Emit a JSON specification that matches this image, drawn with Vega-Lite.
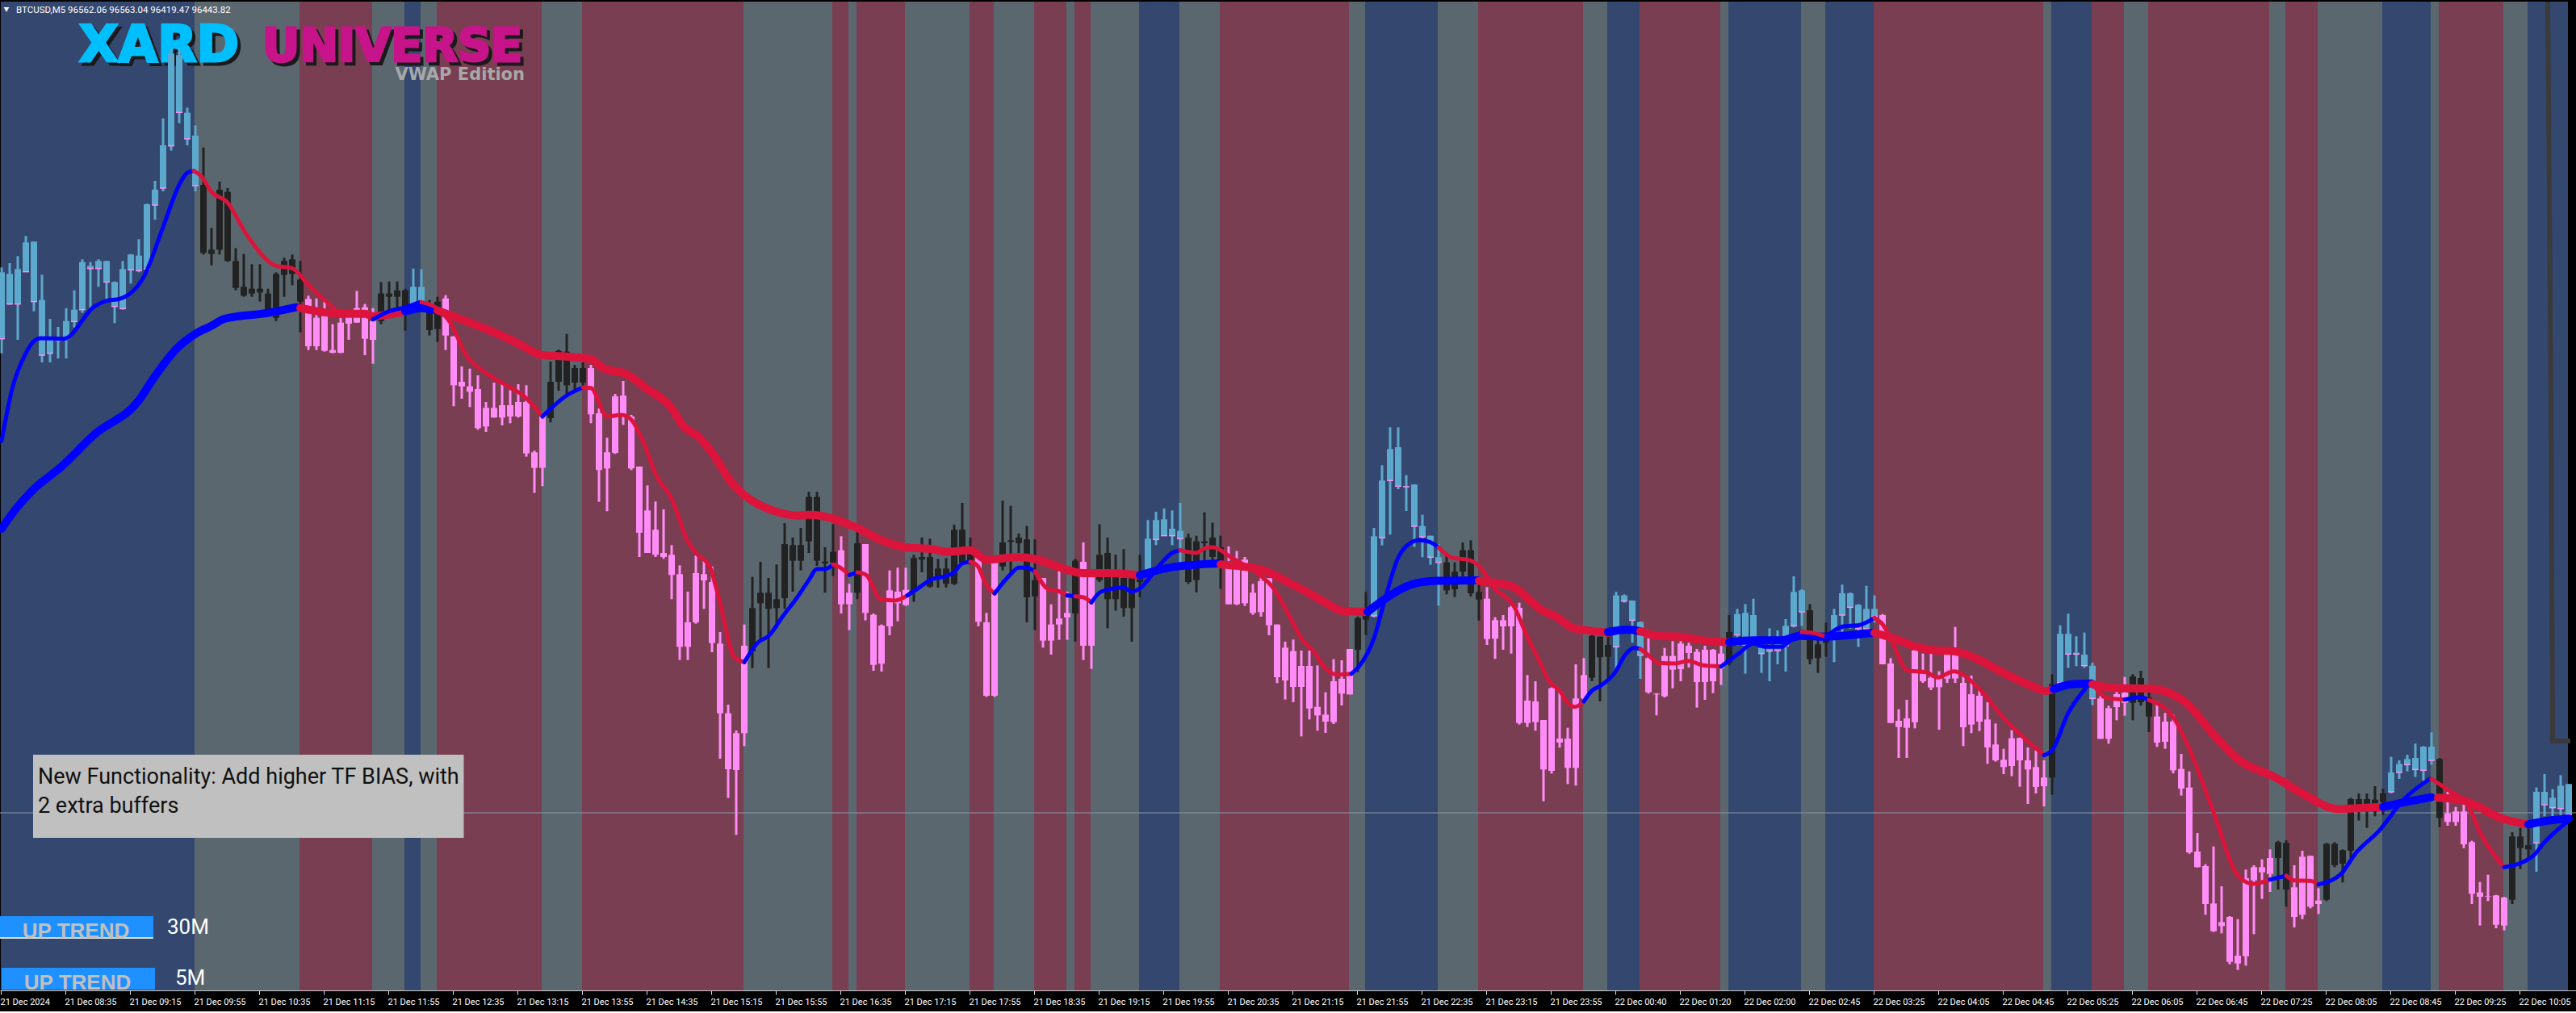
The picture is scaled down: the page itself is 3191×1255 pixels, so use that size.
{"$schema":"https://vega.github.io/schema/vega-lite/v6.json","width":3191,"height":1225,"autosize":{"type":"none"},"padding":{"left":0,"top":2,"right":0,"bottom":26},"background":"#000000","config":{"view":{"stroke":null}},
"datasets":{
"bands":[{"s":0,"e":24,"m":"up"},{"s":24,"e":37,"m":"flat"},{"s":37,"e":46,"m":"down"},{"s":46,"e":50,"m":"flat"},{"s":50,"e":52,"m":"up"},{"s":52,"e":54,"m":"flat"},{"s":54,"e":67,"m":"down"},{"s":67,"e":72,"m":"flat"},{"s":72,"e":92,"m":"down"},{"s":92,"e":103,"m":"flat"},{"s":103,"e":105,"m":"down"},{"s":105,"e":106,"m":"flat"},{"s":106,"e":112,"m":"down"},{"s":112,"e":120,"m":"flat"},{"s":120,"e":123,"m":"down"},{"s":123,"e":128,"m":"flat"},{"s":128,"e":132,"m":"down"},{"s":132,"e":133,"m":"flat"},{"s":133,"e":135,"m":"down"},{"s":135,"e":141,"m":"flat"},{"s":141,"e":146,"m":"up"},{"s":146,"e":151,"m":"flat"},{"s":151,"e":167,"m":"down"},{"s":167,"e":169,"m":"flat"},{"s":169,"e":178,"m":"up"},{"s":178,"e":183,"m":"flat"},{"s":183,"e":196,"m":"down"},{"s":196,"e":199,"m":"flat"},{"s":199,"e":203,"m":"up"},{"s":203,"e":213,"m":"down"},{"s":213,"e":214,"m":"flat"},{"s":214,"e":223,"m":"up"},{"s":223,"e":226,"m":"flat"},{"s":226,"e":232,"m":"up"},{"s":232,"e":253,"m":"down"},{"s":253,"e":254,"m":"flat"},{"s":254,"e":259,"m":"up"},{"s":259,"e":263,"m":"down"},{"s":263,"e":266,"m":"flat"},{"s":266,"e":281,"m":"down"},{"s":281,"e":283,"m":"flat"},{"s":283,"e":287,"m":"down"},{"s":287,"e":295,"m":"flat"},{"s":295,"e":301,"m":"up"},{"s":301,"e":302,"m":"flat"},{"s":302,"e":310,"m":"down"},{"s":310,"e":313,"m":"flat"},{"s":313,"e":318,"m":"up"}],
"candles":[
{"i":0,"h":98506,"l":98187,"t":98488,"b":98241,"k":"u"},{"i":1,"h":98522,"l":98367,"t":98482,"b":98370,"k":"u"},{"i":2,"h":98548,"l":98237,"t":98500,"b":98370,"k":"u"},{"i":3,"h":98623,"l":98490,"t":98599,"b":98490,"k":"u"},{"i":4,"h":98602,"l":98343,"t":98602,"b":98379,"k":"u"},{"i":5,"h":98479,"l":98153,"t":98385,"b":98180,"k":"u"},{"i":6,"h":98315,"l":98153,"t":98241,"b":98187,"k":"u"},{"i":7,"h":98285,"l":98168,"t":98247,"b":98235,"k":"u"},{"i":8,"h":98355,"l":98168,"t":98307,"b":98241,"k":"u"},{"i":9,"h":98421,"l":98283,"t":98349,"b":98305,"k":"u"},
{"i":10,"h":98536,"l":98337,"t":98526,"b":98349,"k":"u"},{"i":11,"h":98526,"l":98355,"t":98512,"b":98502,"k":"u"},{"i":12,"h":98536,"l":98434,"t":98530,"b":98502,"k":"u"},{"i":13,"h":98530,"l":98385,"t":98530,"b":98452,"k":"u"},{"i":14,"h":98454,"l":98299,"t":98452,"b":98361,"k":"u"},{"i":15,"h":98530,"l":98349,"t":98500,"b":98353,"k":"u"},{"i":16,"h":98556,"l":98446,"t":98554,"b":98497,"k":"u"},{"i":17,"h":98611,"l":98488,"t":98550,"b":98494,"k":"u"},{"i":18,"h":98743,"l":98488,"t":98741,"b":98500,"k":"u"},{"i":19,"h":98828,"l":98683,"t":98795,"b":98738,"k":"u"},
{"i":20,"h":99060,"l":98789,"t":98960,"b":98801,"k":"u"},{"i":21,"h":99319,"l":98940,"t":99301,"b":98958,"k":"u"},{"i":22,"h":99319,"l":99042,"t":99295,"b":99082,"k":"u"},{"i":23,"h":99100,"l":98960,"t":99081,"b":98984,"k":"u"},{"i":24,"h":99034,"l":98789,"t":98996,"b":98810,"k":"u"},{"i":25,"h":98952,"l":98554,"t":98813,"b":98560,"k":"n"},{"i":26,"h":98653,"l":98514,"t":98572,"b":98556,"k":"n"},{"i":27,"h":98825,"l":98554,"t":98795,"b":98572,"k":"n"},{"i":28,"h":98801,"l":98526,"t":98787,"b":98530,"k":"n"},{"i":29,"h":98578,"l":98421,"t":98530,"b":98430,"k":"n"},
{"i":30,"h":98556,"l":98397,"t":98434,"b":98401,"k":"n"},{"i":31,"h":98518,"l":98397,"t":98427,"b":98409,"k":"n"},{"i":32,"h":98518,"l":98379,"t":98427,"b":98413,"k":"n"},{"i":33,"h":98427,"l":98343,"t":98409,"b":98343,"k":"n"},{"i":34,"h":98488,"l":98307,"t":98482,"b":98319,"k":"n"},{"i":35,"h":98542,"l":98397,"t":98530,"b":98478,"k":"n"},{"i":36,"h":98554,"l":98440,"t":98536,"b":98482,"k":"n"},{"i":37,"h":98530,"l":98265,"t":98461,"b":98379,"k":"n"},{"i":38,"h":98401,"l":98199,"t":98389,"b":98213,"k":"d"},{"i":39,"h":98391,"l":98199,"t":98319,"b":98213,"k":"d"},
{"i":40,"h":98379,"l":98193,"t":98325,"b":98196,"k":"d"},{"i":41,"h":98295,"l":98187,"t":98199,"b":98189,"k":"d"},{"i":42,"h":98319,"l":98187,"t":98301,"b":98189,"k":"d"},{"i":43,"h":98325,"l":98237,"t":98321,"b":98297,"k":"d"},{"i":44,"h":98419,"l":98301,"t":98355,"b":98301,"k":"d"},{"i":45,"h":98370,"l":98180,"t":98358,"b":98241,"k":"d"},{"i":46,"h":98355,"l":98148,"t":98307,"b":98237,"k":"d"},{"i":47,"h":98452,"l":98295,"t":98409,"b":98307,"k":"n"},{"i":48,"h":98454,"l":98343,"t":98409,"b":98397,"k":"n"},{"i":49,"h":98454,"l":98349,"t":98421,"b":98397,"k":"n"},
{"i":50,"h":98427,"l":98271,"t":98421,"b":98349,"k":"n"},{"i":51,"h":98502,"l":98349,"t":98434,"b":98373,"k":"u"},{"i":52,"h":98500,"l":98367,"t":98434,"b":98373,"k":"u"},{"i":53,"h":98385,"l":98253,"t":98349,"b":98273,"k":"n"},{"i":54,"h":98397,"l":98229,"t":98379,"b":98277,"k":"n"},{"i":55,"h":98403,"l":98199,"t":98391,"b":98253,"k":"d"},{"i":56,"h":98250,"l":97990,"t":98250,"b":98068,"k":"d"},{"i":57,"h":98138,"l":98018,"t":98081,"b":98064,"k":"d"},{"i":58,"h":98130,"l":97987,"t":98064,"b":98044,"k":"d"},{"i":59,"h":98105,"l":97903,"t":98054,"b":97909,"k":"d"},
{"i":60,"h":98006,"l":97895,"t":97984,"b":97915,"k":"d"},{"i":61,"h":98078,"l":97948,"t":97984,"b":97948,"k":"d"},{"i":62,"h":98074,"l":97919,"t":97994,"b":97948,"k":"d"},{"i":63,"h":98050,"l":97927,"t":97994,"b":97952,"k":"d"},{"i":64,"h":98072,"l":97948,"t":98006,"b":97952,"k":"d"},{"i":65,"h":98068,"l":97803,"t":98006,"b":97815,"k":"d"},{"i":66,"h":97825,"l":97668,"t":97819,"b":97761,"k":"d"},{"i":67,"h":97952,"l":97693,"t":97952,"b":97761,"k":"d"},{"i":68,"h":98156,"l":97930,"t":98081,"b":97946,"k":"n"},{"i":69,"h":98201,"l":98048,"t":98196,"b":98081,"k":"n"},
{"i":70,"h":98259,"l":98036,"t":98193,"b":98068,"k":"n"},{"i":71,"h":98144,"l":98048,"t":98132,"b":98078,"k":"n"},{"i":72,"h":98153,"l":98060,"t":98132,"b":98078,"k":"n"},{"i":73,"h":98144,"l":97927,"t":98132,"b":97960,"k":"d"},{"i":74,"h":97982,"l":97635,"t":97964,"b":97753,"k":"d"},{"i":75,"h":97873,"l":97600,"t":97819,"b":97759,"k":"d"},{"i":76,"h":98036,"l":97813,"t":98027,"b":97817,"k":"d"},{"i":77,"h":98084,"l":97921,"t":98030,"b":97960,"k":"d"},{"i":78,"h":97958,"l":97753,"t":97952,"b":97759,"k":"d"},{"i":79,"h":97766,"l":97430,"t":97766,"b":97520,"k":"d"},
{"i":80,"h":97696,"l":97445,"t":97603,"b":97445,"k":"d"},{"i":81,"h":97636,"l":97430,"t":97531,"b":97438,"k":"d"},{"i":82,"h":97607,"l":97423,"t":97445,"b":97430,"k":"d"},{"i":83,"h":97474,"l":97273,"t":97438,"b":97363,"k":"d"},{"i":84,"h":97399,"l":97047,"t":97366,"b":97096,"k":"d"},{"i":85,"h":97301,"l":97047,"t":97187,"b":97096,"k":"d"},{"i":86,"h":97435,"l":97182,"t":97370,"b":97187,"k":"d"},{"i":87,"h":97416,"l":97237,"t":97366,"b":97343,"k":"d"},{"i":88,"h":97395,"l":97076,"t":97337,"b":97110,"k":"d"},{"i":89,"h":97151,"l":96680,"t":97108,"b":96849,"k":"d"},
{"i":90,"h":96881,"l":96534,"t":96849,"b":96641,"k":"d"},{"i":91,"h":96785,"l":96397,"t":96775,"b":96638,"k":"d"},{"i":92,"h":97179,"l":96727,"t":97100,"b":96775,"k":"d"},{"i":93,"h":97356,"l":97017,"t":97240,"b":97079,"k":"n"},{"i":94,"h":97412,"l":97122,"t":97297,"b":97258,"k":"n"},{"i":95,"h":97352,"l":97017,"t":97297,"b":97237,"k":"n"},{"i":96,"h":97402,"l":97165,"t":97273,"b":97240,"k":"n"},{"i":97,"h":97555,"l":97237,"t":97478,"b":97277,"k":"n"},{"i":98,"h":97502,"l":97301,"t":97474,"b":97416,"k":"n"},{"i":99,"h":97538,"l":97380,"t":97474,"b":97416,"k":"n"},
{"i":100,"h":97672,"l":97445,"t":97653,"b":97488,"k":"n"},{"i":101,"h":97672,"l":97397,"t":97653,"b":97416,"k":"n"},{"i":102,"h":97466,"l":97297,"t":97413,"b":97406,"k":"n"},{"i":103,"h":97552,"l":97359,"t":97449,"b":97409,"k":"n"},{"i":104,"h":97507,"l":97220,"t":97455,"b":97254,"k":"d"},{"i":105,"h":97330,"l":97158,"t":97297,"b":97254,"k":"d"},{"i":106,"h":97524,"l":97273,"t":97481,"b":97297,"k":"n"},{"i":107,"h":97478,"l":97194,"t":97478,"b":97222,"k":"d"},{"i":108,"h":97220,"l":97007,"t":97215,"b":97029,"k":"d"},{"i":109,"h":97179,"l":97004,"t":97175,"b":97033,"k":"d"},
{"i":110,"h":97380,"l":97139,"t":97306,"b":97172,"k":"d"},{"i":111,"h":97390,"l":97191,"t":97301,"b":97258,"k":"d"},{"i":112,"h":97390,"l":97248,"t":97308,"b":97251,"k":"d"},{"i":113,"h":97438,"l":97263,"t":97426,"b":97301,"k":"n"},{"i":114,"h":97502,"l":97373,"t":97430,"b":97420,"k":"n"},{"i":115,"h":97498,"l":97316,"t":97430,"b":97320,"k":"n"},{"i":116,"h":97423,"l":97316,"t":97387,"b":97352,"k":"n"},{"i":117,"h":97426,"l":97316,"t":97387,"b":97330,"k":"n"},{"i":118,"h":97550,"l":97326,"t":97531,"b":97330,"k":"n"},{"i":119,"h":97631,"l":97402,"t":97531,"b":97409,"k":"n"},
{"i":120,"h":97502,"l":97402,"t":97452,"b":97409,"k":"n"},{"i":121,"h":97452,"l":97172,"t":97435,"b":97189,"k":"d"},{"i":122,"h":97222,"l":96910,"t":97187,"b":96914,"k":"d"},{"i":123,"h":97409,"l":96910,"t":97409,"b":96914,"k":"d"},{"i":124,"h":97639,"l":97380,"t":97484,"b":97395,"k":"n"},{"i":125,"h":97620,"l":97366,"t":97492,"b":97486,"k":"n"},{"i":126,"h":97517,"l":97423,"t":97502,"b":97481,"k":"n"},{"i":127,"h":97545,"l":97187,"t":97495,"b":97280,"k":"n"},{"i":128,"h":97495,"l":97158,"t":97344,"b":97283,"k":"n"},{"i":129,"h":97352,"l":97093,"t":97352,"b":97119,"k":"d"},
{"i":130,"h":97254,"l":97067,"t":97179,"b":97119,"k":"d"},{"i":131,"h":97406,"l":97122,"t":97201,"b":97179,"k":"d"},{"i":132,"h":97301,"l":97122,"t":97222,"b":97205,"k":"d"},{"i":133,"h":97423,"l":97115,"t":97416,"b":97220,"k":"n"},{"i":134,"h":97484,"l":97047,"t":97412,"b":97100,"k":"d"},{"i":135,"h":97380,"l":97014,"t":97354,"b":97100,"k":"d"},{"i":136,"h":97552,"l":97337,"t":97438,"b":97344,"k":"n"},{"i":137,"h":97502,"l":97165,"t":97445,"b":97273,"k":"n"},{"i":138,"h":97438,"l":97230,"t":97366,"b":97273,"k":"n"},{"i":139,"h":97459,"l":97208,"t":97352,"b":97240,"k":"n"},
{"i":140,"h":97366,"l":97115,"t":97354,"b":97240,"k":"n"},{"i":141,"h":97438,"l":97280,"t":97366,"b":97337,"k":"n"},{"i":142,"h":97567,"l":97366,"t":97498,"b":97373,"k":"u"},{"i":143,"h":97598,"l":97474,"t":97567,"b":97495,"k":"u"},{"i":144,"h":97610,"l":97509,"t":97570,"b":97509,"k":"u"},{"i":145,"h":97603,"l":97474,"t":97535,"b":97509,"k":"u"},{"i":146,"h":97631,"l":97402,"t":97527,"b":97498,"k":"u"},{"i":147,"h":97517,"l":97330,"t":97502,"b":97337,"k":"n"},{"i":148,"h":97509,"l":97298,"t":97488,"b":97344,"k":"n"},{"i":149,"h":97596,"l":97409,"t":97488,"b":97481,"k":"n"},
{"i":150,"h":97557,"l":97409,"t":97502,"b":97430,"k":"n"},{"i":151,"h":97509,"l":97311,"t":97466,"b":97402,"k":"n"},{"i":152,"h":97469,"l":97254,"t":97409,"b":97254,"k":"d"},{"i":153,"h":97452,"l":97251,"t":97395,"b":97254,"k":"d"},{"i":154,"h":97430,"l":97248,"t":97420,"b":97258,"k":"d"},{"i":155,"h":97330,"l":97215,"t":97297,"b":97222,"k":"d"},{"i":156,"h":97352,"l":97208,"t":97340,"b":97225,"k":"d"},{"i":157,"h":97352,"l":97139,"t":97352,"b":97176,"k":"d"},{"i":158,"h":97179,"l":96961,"t":97179,"b":96983,"k":"d"},{"i":159,"h":97115,"l":96900,"t":97093,"b":96971,"k":"d"},
{"i":160,"h":97123,"l":96890,"t":97080,"b":96947,"k":"d"},{"i":161,"h":97082,"l":96763,"t":97025,"b":96947,"k":"d"},{"i":162,"h":97082,"l":96826,"t":97025,"b":96867,"k":"d"},{"i":163,"h":97027,"l":96784,"t":96873,"b":96841,"k":"d"},{"i":164,"h":96927,"l":96776,"t":96844,"b":96818,"k":"d"},{"i":165,"h":97050,"l":96809,"t":96968,"b":96816,"k":"d"},{"i":166,"h":97046,"l":96878,"t":96977,"b":96922,"k":"d"},{"i":167,"h":97088,"l":96919,"t":97088,"b":96919,"k":"d"},{"i":168,"h":97209,"l":97002,"t":97203,"b":97085,"k":"n"},{"i":169,"h":97300,"l":97140,"t":97232,"b":97197,"k":"n"},
{"i":170,"h":97538,"l":97205,"t":97507,"b":97211,"k":"u"},{"i":171,"h":97771,"l":97473,"t":97714,"b":97501,"k":"u"},{"i":172,"h":97912,"l":97513,"t":97831,"b":97714,"k":"u"},{"i":173,"h":97912,"l":97682,"t":97838,"b":97693,"k":"u"},{"i":174,"h":97734,"l":97601,"t":97693,"b":97691,"k":"u"},{"i":175,"h":97700,"l":97467,"t":97699,"b":97544,"k":"u"},{"i":176,"h":97587,"l":97429,"t":97545,"b":97505,"k":"u"},{"i":177,"h":97509,"l":97401,"t":97509,"b":97429,"k":"u"},{"i":178,"h":97478,"l":97249,"t":97429,"b":97410,"k":"u"},{"i":179,"h":97438,"l":97291,"t":97410,"b":97306,"k":"n"},
{"i":180,"h":97410,"l":97281,"t":97375,"b":97310,"k":"n"},{"i":181,"h":97484,"l":97358,"t":97455,"b":97375,"k":"n"},{"i":182,"h":97492,"l":97283,"t":97455,"b":97295,"k":"n"},{"i":183,"h":97346,"l":97194,"t":97300,"b":97272,"k":"n"},{"i":184,"h":97318,"l":97103,"t":97275,"b":97125,"k":"d"},{"i":185,"h":97206,"l":97051,"t":97195,"b":97126,"k":"d"},{"i":186,"h":97214,"l":97085,"t":97195,"b":97172,"k":"d"},{"i":187,"h":97249,"l":97071,"t":97243,"b":97172,"k":"d"},{"i":188,"h":97260,"l":96807,"t":97241,"b":96813,"k":"d"},{"i":189,"h":96991,"l":96798,"t":96896,"b":96813,"k":"d"},
{"i":190,"h":96968,"l":96784,"t":96893,"b":96816,"k":"d"},{"i":191,"h":96824,"l":96522,"t":96824,"b":96640,"k":"d"},{"i":192,"h":96945,"l":96625,"t":96942,"b":96635,"k":"d"},{"i":193,"h":96939,"l":96721,"t":96755,"b":96740,"k":"d"},{"i":194,"h":96795,"l":96586,"t":96755,"b":96646,"k":"d"},{"i":195,"h":97031,"l":96580,"t":96904,"b":96646,"k":"d"},{"i":196,"h":97054,"l":96887,"t":96991,"b":96904,"k":"d"},{"i":197,"h":97140,"l":96968,"t":97137,"b":96981,"k":"n"},{"i":198,"h":97134,"l":96893,"t":97134,"b":97057,"k":"n"},{"i":199,"h":97134,"l":96968,"t":97103,"b":97059,"k":"n"},
{"i":200,"h":97300,"l":97002,"t":97287,"b":97096,"k":"u"},{"i":201,"h":97291,"l":97260,"t":97287,"b":97266,"k":"u"},{"i":202,"h":97268,"l":97111,"t":97268,"b":97195,"k":"u"},{"i":203,"h":97190,"l":96977,"t":97188,"b":97065,"k":"u"},{"i":204,"h":97128,"l":96922,"t":97054,"b":96927,"k":"d"},{"i":205,"h":96924,"l":96841,"t":96922,"b":96919,"k":"d"},{"i":206,"h":97092,"l":96908,"t":97062,"b":96912,"k":"d"},{"i":207,"h":97117,"l":96942,"t":97062,"b":97011,"k":"d"},{"i":208,"h":97117,"l":96968,"t":97108,"b":97013,"k":"d"},{"i":209,"h":97111,"l":97019,"t":97100,"b":97073,"k":"d"},
{"i":210,"h":97088,"l":96870,"t":97077,"b":96965,"k":"d"},{"i":211,"h":97100,"l":96899,"t":97085,"b":96965,"k":"d"},{"i":212,"h":97088,"l":96924,"t":97085,"b":96968,"k":"d"},{"i":213,"h":97100,"l":96954,"t":97071,"b":97016,"k":"d"},{"i":214,"h":97214,"l":97027,"t":97151,"b":97036,"k":"n"},{"i":215,"h":97237,"l":97100,"t":97218,"b":97140,"k":"u"},{"i":216,"h":97255,"l":96996,"t":97222,"b":97103,"k":"u"},{"i":217,"h":97275,"l":97105,"t":97214,"b":97111,"k":"u"},{"i":218,"h":97111,"l":96999,"t":97092,"b":97071,"k":"u"},{"i":219,"h":97165,"l":96968,"t":97094,"b":97080,"k":"u"},
{"i":220,"h":97157,"l":97031,"t":97111,"b":97082,"k":"u"},{"i":221,"h":97199,"l":97004,"t":97174,"b":97100,"k":"u"},{"i":222,"h":97358,"l":97168,"t":97300,"b":97174,"k":"u"},{"i":223,"h":97310,"l":97174,"t":97306,"b":97226,"k":"u"},{"i":224,"h":97255,"l":97031,"t":97232,"b":97050,"k":"n"},{"i":225,"h":97140,"l":96999,"t":97105,"b":97054,"k":"n"},{"i":226,"h":97186,"l":97059,"t":97146,"b":97111,"k":"n"},{"i":227,"h":97237,"l":97039,"t":97214,"b":97151,"k":"u"},{"i":228,"h":97327,"l":97151,"t":97295,"b":97214,"k":"u"},{"i":229,"h":97298,"l":97163,"t":97295,"b":97243,"k":"u"},
{"i":230,"h":97255,"l":97096,"t":97252,"b":97163,"k":"u"},{"i":231,"h":97323,"l":97157,"t":97237,"b":97163,"k":"u"},{"i":232,"h":97287,"l":97186,"t":97237,"b":97209,"k":"u"},{"i":233,"h":97218,"l":97031,"t":97214,"b":97031,"k":"d"},{"i":234,"h":97054,"l":96813,"t":97034,"b":96813,"k":"d"},{"i":235,"h":96864,"l":96683,"t":96821,"b":96798,"k":"d"},{"i":236,"h":96899,"l":96683,"t":96830,"b":96795,"k":"d"},{"i":237,"h":97088,"l":96793,"t":97082,"b":96816,"k":"d"},{"i":238,"h":97071,"l":96962,"t":96996,"b":96968,"k":"d"},{"i":239,"h":97077,"l":96935,"t":96981,"b":96945,"k":"d"},
{"i":240,"h":97005,"l":96788,"t":96978,"b":96946,"k":"d"},{"i":241,"h":97069,"l":96962,"t":97069,"b":96978,"k":"d"},{"i":242,"h":97170,"l":96962,"t":97069,"b":96978,"k":"d"},{"i":243,"h":96994,"l":96727,"t":96962,"b":96797,"k":"d"},{"i":244,"h":96989,"l":96775,"t":96920,"b":96807,"k":"d"},{"i":245,"h":96946,"l":96783,"t":96914,"b":96818,"k":"d"},{"i":246,"h":96890,"l":96661,"t":96826,"b":96722,"k":"d"},{"i":247,"h":96811,"l":96669,"t":96733,"b":96674,"k":"d"},{"i":248,"h":96717,"l":96623,"t":96676,"b":96649,"k":"d"},{"i":249,"h":96786,"l":96615,"t":96756,"b":96653,"k":"d"},
{"i":250,"h":96759,"l":96576,"t":96757,"b":96674,"k":"d"},{"i":251,"h":96722,"l":96512,"t":96674,"b":96640,"k":"d"},{"i":252,"h":96717,"l":96551,"t":96649,"b":96575,"k":"d"},{"i":253,"h":96674,"l":96503,"t":96610,"b":96578,"k":"d"},{"i":254,"h":96994,"l":96546,"t":96957,"b":96610,"k":"n"},{"i":255,"h":97176,"l":96957,"t":97144,"b":96962,"k":"u"},{"i":256,"h":97219,"l":97018,"t":97144,"b":97069,"k":"u"},{"i":257,"h":97135,"l":97024,"t":97074,"b":97069,"k":"u"},{"i":258,"h":97149,"l":97018,"t":97067,"b":97026,"k":"u"},{"i":259,"h":97037,"l":96879,"t":97026,"b":96904,"k":"u"},
{"i":260,"h":96914,"l":96754,"t":96904,"b":96754,"k":"d"},{"i":261,"h":96877,"l":96736,"t":96868,"b":96754,"k":"d"},{"i":262,"h":96930,"l":96823,"t":96920,"b":96872,"k":"d"},{"i":263,"h":96984,"l":96840,"t":96925,"b":96888,"k":"d"},{"i":264,"h":96994,"l":96823,"t":96986,"b":96888,"k":"n"},{"i":265,"h":97007,"l":96877,"t":96980,"b":96890,"k":"n"},{"i":266,"h":96930,"l":96779,"t":96907,"b":96837,"k":"n"},{"i":267,"h":96893,"l":96724,"t":96837,"b":96740,"k":"d"},{"i":268,"h":96850,"l":96717,"t":96818,"b":96743,"k":"d"},{"i":269,"h":96845,"l":96626,"t":96818,"b":96637,"k":"d"},
{"i":270,"h":96698,"l":96543,"t":96642,"b":96569,"k":"d"},{"i":271,"h":96633,"l":96327,"t":96573,"b":96332,"k":"d"},{"i":272,"h":96404,"l":96276,"t":96335,"b":96277,"k":"d"},{"i":273,"h":96288,"l":96100,"t":96281,"b":96140,"k":"d"},{"i":274,"h":96354,"l":96036,"t":96142,"b":96039,"k":"d"},{"i":275,"h":96206,"l":96031,"t":96073,"b":96058,"k":"d"},{"i":276,"h":96095,"l":95916,"t":96092,"b":95925,"k":"d"},{"i":277,"h":96084,"l":95895,"t":95948,"b":95919,"k":"d"},{"i":278,"h":96268,"l":95911,"t":96236,"b":95946,"k":"d"},{"i":279,"h":96284,"l":96028,"t":96277,"b":96228,"k":"d"},
{"i":280,"h":96306,"l":96159,"t":96277,"b":96258,"k":"d"},{"i":281,"h":96343,"l":96185,"t":96311,"b":96252,"k":"d"},{"i":282,"h":96375,"l":96194,"t":96370,"b":96311,"k":"n"},{"i":283,"h":96377,"l":96130,"t":96367,"b":96194,"k":"n"},{"i":284,"h":96284,"l":96053,"t":96202,"b":96092,"k":"d"},{"i":285,"h":96338,"l":96084,"t":96316,"b":96100,"k":"d"},{"i":286,"h":96320,"l":96124,"t":96319,"b":96130,"k":"d"},{"i":287,"h":96199,"l":96103,"t":96153,"b":96140,"k":"d"},{"i":288,"h":96367,"l":96151,"t":96364,"b":96156,"k":"n"},{"i":289,"h":96370,"l":96277,"t":96364,"b":96284,"k":"n"},
{"i":290,"h":96343,"l":96220,"t":96340,"b":96290,"k":"n"},{"i":291,"h":96535,"l":96311,"t":96530,"b":96338,"k":"n"},{"i":292,"h":96551,"l":96450,"t":96530,"b":96484,"k":"n"},{"i":293,"h":96551,"l":96423,"t":96530,"b":96484,"k":"n"},{"i":294,"h":96578,"l":96466,"t":96528,"b":96484,"k":"n"},{"i":295,"h":96569,"l":96471,"t":96551,"b":96519,"k":"n"},{"i":296,"h":96687,"l":96551,"t":96629,"b":96557,"k":"u"},{"i":297,"h":96674,"l":96605,"t":96661,"b":96629,"k":"u"},{"i":298,"h":96695,"l":96633,"t":96679,"b":96658,"k":"u"},{"i":299,"h":96736,"l":96612,"t":96683,"b":96640,"k":"u"},
{"i":300,"h":96727,"l":96599,"t":96725,"b":96637,"k":"u"},{"i":301,"h":96778,"l":96658,"t":96725,"b":96674,"k":"u"},{"i":302,"h":96683,"l":96426,"t":96679,"b":96460,"k":"n"},{"i":303,"h":96557,"l":96431,"t":96477,"b":96445,"k":"d"},{"i":304,"h":96501,"l":96431,"t":96484,"b":96445,"k":"d"},{"i":305,"h":96525,"l":96348,"t":96484,"b":96362,"k":"d"},{"i":306,"h":96375,"l":96140,"t":96370,"b":96178,"k":"d"},{"i":307,"h":96222,"l":96060,"t":96183,"b":96167,"k":"d"},{"i":308,"h":96249,"l":96151,"t":96169,"b":96167,"k":"d"},{"i":309,"h":96174,"l":96050,"t":96172,"b":96063,"k":"d"},
{"i":310,"h":96167,"l":96042,"t":96164,"b":96060,"k":"d"},{"i":311,"h":96407,"l":96140,"t":96391,"b":96156,"k":"n"},{"i":312,"h":96423,"l":96270,"t":96391,"b":96348,"k":"n"},{"i":313,"h":96423,"l":96311,"t":96359,"b":96343,"k":"n"},{"i":314,"h":96573,"l":96260,"t":96557,"b":96367,"k":"u"},{"i":315,"h":96623,"l":96466,"t":96557,"b":96509,"k":"u"},{"i":316,"h":96567,"l":96463,"t":96535,"b":96498,"k":"u"},{"i":317,"h":96619,"l":96460,"t":96580,"b":96495,"k":"u"},{"i":318,"h":96586,"l":96471,"t":96586,"b":96473,"k":"u"}],
"slow":[
{"i":0,"p":97535,"g":"s1","t":"u"},{"i":1.8,"p":97610,"g":"s1","t":"u"},{"i":3.9,"p":97680,"g":"s1","t":"u"},{"i":7.4,"p":97765,"g":"s1","t":"u"},{"i":11.5,"p":97885,"g":"s1","t":"u"},{"i":17,"p":98012,"g":"s1","t":"u"},{"i":19,"p":98102,"g":"s1","t":"u"},{"i":21.7,"p":98205,"g":"s1","t":"u"},{"i":24,"p":98259,"g":"s1","t":"u"},{"i":26,"p":98289,"g":"s1","t":"u"},{"i":27.6,"p":98315,"g":"s1","t":"u"},{"i":33,"p":98337,"g":"s1","t":"u"},{"i":36.5,"p":98358,"g":"s1","t":"u"},
{"i":37,"p":98355,"g":"s2","t":"d"},{"i":42,"p":98334,"g":"s2","t":"d"},{"i":45,"p":98334,"g":"s2","t":"d"},{"i":46,"p":98325,"g":"s2","t":"d"},{"i":50,"p":98343,"g":"s2","t":"d"},
{"i":50,"p":98343,"g":"s3","t":"u"},{"i":52,"p":98355,"g":"s3","t":"u"},{"i":54,"p":98346,"g":"s3","t":"u"},
{"i":54,"p":98346,"g":"s4","t":"d"},{"i":58,"p":98301,"g":"s4","t":"d"},{"i":61,"p":98265,"g":"s4","t":"d"},{"i":64,"p":98223,"g":"s4","t":"d"},{"i":67,"p":98180,"g":"s4","t":"d"},{"i":70,"p":98175,"g":"s4","t":"d"},{"i":73,"p":98165,"g":"s4","t":"d"},{"i":74.5,"p":98132,"g":"s4","t":"d"},{"i":77.5,"p":98108,"g":"s4","t":"d"},{"i":79.8,"p":98058,"g":"s4","t":"d"},{"i":83,"p":97983,"g":"s4","t":"d"},{"i":84.4,"p":97918,"g":"s4","t":"d"},{"i":86.4,"p":97875,"g":"s4","t":"d"},{"i":88,"p":97818,"g":"s4","t":"d"},{"i":90.5,"p":97703,"g":"s4","t":"d"},{"i":92,"p":97660,"g":"s4","t":"d"},{"i":96,"p":97598,"g":"s4","t":"d"},{"i":98.6,"p":97584,"g":"s4","t":"d"},{"i":100,"p":97587,"g":"s4","t":"d"},{"i":106,"p":97538,"g":"s4","t":"d"},{"i":109,"p":97492,"g":"s4","t":"d"},{"i":112,"p":97466,"g":"s4","t":"d"},{"i":115.5,"p":97459,"g":"s4","t":"d"},{"i":117,"p":97449,"g":"s4","t":"d"},{"i":120,"p":97455,"g":"s4","t":"d"},{"i":122,"p":97420,"g":"s4","t":"d"},{"i":126,"p":97430,"g":"s4","t":"d"},{"i":128.8,"p":97416,"g":"s4","t":"d"},{"i":131,"p":97392,"g":"s4","t":"d"},{"i":134,"p":97370,"g":"s4","t":"d"},{"i":137.5,"p":97370,"g":"s4","t":"d"},{"i":141,"p":97362,"g":"s4","t":"d"},
{"i":141,"p":97362,"g":"s5","t":"u"},{"i":145,"p":97392,"g":"s5","t":"u"},{"i":150.8,"p":97406,"g":"s5","t":"u"},
{"i":151,"p":97402,"g":"s6","t":"d"},{"i":156,"p":97383,"g":"s6","t":"d"},{"i":159.8,"p":97329,"g":"s6","t":"d"},{"i":162,"p":97295,"g":"s6","t":"d"},{"i":164,"p":97260,"g":"s6","t":"d"},{"i":166.2,"p":97229,"g":"s6","t":"d"},{"i":169,"p":97226,"g":"s6","t":"d"},
{"i":169.2,"p":97226,"g":"s7","t":"u"},{"i":172,"p":97287,"g":"s7","t":"u"},{"i":174.6,"p":97327,"g":"s7","t":"u"},{"i":177.4,"p":97341,"g":"s7","t":"u"},{"i":182.8,"p":97343,"g":"s7","t":"u"},
{"i":183,"p":97341,"g":"s8","t":"d"},{"i":187,"p":97321,"g":"s8","t":"d"},{"i":191,"p":97229,"g":"s8","t":"d"},{"i":192.5,"p":97209,"g":"s8","t":"d"},{"i":194.5,"p":97168,"g":"s8","t":"d"},{"i":196,"p":97159,"g":"s8","t":"d"},{"i":199,"p":97149,"g":"s8","t":"d"},
{"i":199,"p":97151,"g":"s9","t":"u"},{"i":201.4,"p":97160,"g":"s9","t":"u"},{"i":203,"p":97154,"g":"s9","t":"u"},
{"i":203,"p":97154,"g":"s10","t":"d"},{"i":205,"p":97137,"g":"s10","t":"d"},{"i":208,"p":97134,"g":"s10","t":"d"},{"i":210,"p":97123,"g":"s10","t":"d"},{"i":214,"p":97113,"g":"s10","t":"d"},
{"i":214,"p":97113,"g":"s11","t":"u"},{"i":217,"p":97120,"g":"s11","t":"u"},{"i":220.5,"p":97120,"g":"s11","t":"u"},{"i":222.8,"p":97137,"g":"s11","t":"u"},{"i":226,"p":97134,"g":"s11","t":"u"},{"i":231.7,"p":97148,"g":"s11","t":"u"},
{"i":232,"p":97148,"g":"s12","t":"d"},{"i":234.8,"p":97123,"g":"s12","t":"d"},{"i":236.8,"p":97100,"g":"s12","t":"d"},{"i":239.8,"p":97082,"g":"s12","t":"d"},{"i":241.8,"p":97080,"g":"s12","t":"d"},{"i":244.8,"p":97050,"g":"s12","t":"d"},{"i":247.9,"p":97000,"g":"s12","t":"d"},{"i":251.4,"p":96952,"g":"s12","t":"d"},{"i":253.2,"p":96932,"g":"s12","t":"d"},{"i":254.2,"p":96939,"g":"s12","t":"d"},
{"i":254.2,"p":96939,"g":"s13","t":"u"},{"i":256.4,"p":96957,"g":"s13","t":"u"},{"i":258.9,"p":96960,"g":"s13","t":"u"},
{"i":259,"p":96957,"g":"s14","t":"d"},{"i":261.5,"p":96943,"g":"s14","t":"d"},{"i":266,"p":96941,"g":"s14","t":"d"},{"i":268.5,"p":96925,"g":"s14","t":"d"},{"i":270.6,"p":96888,"g":"s14","t":"d"},{"i":274,"p":96770,"g":"s14","t":"d"},{"i":277,"p":96679,"g":"s14","t":"d"},{"i":281.7,"p":96610,"g":"s14","t":"d"},{"i":285,"p":96551,"g":"s14","t":"d"},{"i":289.5,"p":96493,"g":"s14","t":"d"},{"i":291,"p":96495,"g":"s14","t":"d"},{"i":295,"p":96501,"g":"s14","t":"d"},
{"i":295,"p":96501,"g":"s15","t":"u"},{"i":297.8,"p":96519,"g":"s15","t":"u"},{"i":301,"p":96537,"g":"s15","t":"u"},
{"i":301.8,"p":96535,"g":"s16","t":"d"},{"i":304.9,"p":96525,"g":"s16","t":"d"},{"i":310,"p":96455,"g":"s16","t":"d"},{"i":313,"p":96436,"g":"s16","t":"d"},
{"i":313,"p":96436,"g":"s17","t":"u"},{"i":315.5,"p":96450,"g":"s17","t":"u"},{"i":318,"p":96458,"g":"s17","t":"u"}],
"fast":[
{"i":0,"p":97861,"g":"f1","t":"u"},{"i":1.3,"p":98054,"g":"f1","t":"u"},{"i":3,"p":98187,"g":"f1","t":"u"},{"i":3.9,"p":98229,"g":"f1","t":"u"},{"i":4.9,"p":98243,"g":"f1","t":"u"},{"i":7.7,"p":98241,"g":"f1","t":"u"},{"i":11.5,"p":98361,"g":"f1","t":"u"},{"i":13,"p":98382,"g":"f1","t":"u"},{"i":14.6,"p":98389,"g":"f1","t":"u"},{"i":17.7,"p":98476,"g":"f1","t":"u"},{"i":20,"p":98656,"g":"f1","t":"u"},{"i":22,"p":98813,"g":"f1","t":"u"},{"i":23,"p":98858,"g":"f1","t":"u"},{"i":23.8,"p":98865,"g":"f1","t":"u"},
{"i":23.8,"p":98865,"g":"f2","t":"d"},{"i":24.8,"p":98843,"g":"f2","t":"d"},{"i":26,"p":98787,"g":"f2","t":"d"},{"i":27.9,"p":98750,"g":"f2","t":"d"},{"i":30.4,"p":98626,"g":"f2","t":"d"},{"i":34,"p":98512,"g":"f2","t":"d"},{"i":36,"p":98503,"g":"f2","t":"d"},{"i":38,"p":98440,"g":"f2","t":"d"},{"i":40,"p":98385,"g":"f2","t":"d"},{"i":42,"p":98340,"g":"f2","t":"d"},{"i":44.7,"p":98337,"g":"f2","t":"d"},{"i":46,"p":98313,"g":"f2","t":"d"},
{"i":46,"p":98313,"g":"f3","t":"u"},{"i":48,"p":98343,"g":"f3","t":"u"},{"i":50,"p":98358,"g":"f3","t":"u"},{"i":51.8,"p":98377,"g":"f3","t":"u"},
{"i":52,"p":98377,"g":"f4","t":"d"},{"i":53.9,"p":98355,"g":"f4","t":"d"},{"i":55.7,"p":98295,"g":"f4","t":"d"},{"i":57.4,"p":98187,"g":"f4","t":"d"},{"i":60,"p":98114,"g":"f4","t":"d"},{"i":63,"p":98060,"g":"f4","t":"d"},{"i":64.6,"p":98030,"g":"f4","t":"d"},{"i":67,"p":97952,"g":"f4","t":"d"},
{"i":67,"p":97952,"g":"f5","t":"u"},{"i":70,"p":98030,"g":"f5","t":"u"},{"i":72,"p":98060,"g":"f5","t":"u"},
{"i":72,"p":98060,"g":"f6","t":"d"},{"i":73,"p":98058,"g":"f6","t":"d"},{"i":75,"p":97952,"g":"f6","t":"d"},{"i":76.8,"p":97958,"g":"f6","t":"d"},{"i":78,"p":97940,"g":"f6","t":"d"},{"i":79.8,"p":97835,"g":"f6","t":"d"},{"i":81,"p":97739,"g":"f6","t":"d"},{"i":83,"p":97646,"g":"f6","t":"d"},{"i":85,"p":97488,"g":"f6","t":"d"},{"i":86,"p":97445,"g":"f6","t":"d"},{"i":87.7,"p":97395,"g":"f6","t":"d"},{"i":88.7,"p":97294,"g":"f6","t":"d"},{"i":90.8,"p":97057,"g":"f6","t":"d"},{"i":92,"p":97039,"g":"f6","t":"d"},
{"i":92,"p":97039,"g":"f7","t":"u"},{"i":93.8,"p":97115,"g":"f7","t":"u"},{"i":95,"p":97136,"g":"f7","t":"u"},{"i":96.9,"p":97215,"g":"f7","t":"u"},{"i":98.4,"p":97273,"g":"f7","t":"u"},{"i":100,"p":97344,"g":"f7","t":"u"},{"i":101,"p":97385,"g":"f7","t":"u"},{"i":102,"p":97385,"g":"f7","t":"u"},{"i":103,"p":97402,"g":"f7","t":"u"},
{"i":103,"p":97402,"g":"f8","t":"d"},{"i":103.8,"p":97392,"g":"f8","t":"d"},{"i":105,"p":97363,"g":"f8","t":"d"},
{"i":105,"p":97363,"g":"f9","t":"u"},{"i":106,"p":97373,"g":"f9","t":"u"},
{"i":106,"p":97373,"g":"f10","t":"d"},{"i":107.1,"p":97363,"g":"f10","t":"d"},{"i":108.9,"p":97273,"g":"f10","t":"d"},{"i":110.7,"p":97268,"g":"f10","t":"d"},{"i":112.2,"p":97287,"g":"f10","t":"d"},
{"i":112.2,"p":97287,"g":"f11","t":"u"},{"i":114,"p":97323,"g":"f11","t":"u"},{"i":115,"p":97344,"g":"f11","t":"u"},{"i":117,"p":97359,"g":"f11","t":"u"},{"i":118,"p":97373,"g":"f11","t":"u"},{"i":119,"p":97406,"g":"f11","t":"u"},{"i":120,"p":97412,"g":"f11","t":"u"},
{"i":120,"p":97412,"g":"f12","t":"d"},{"i":120.9,"p":97397,"g":"f12","t":"d"},{"i":121.9,"p":97330,"g":"f12","t":"d"},{"i":123,"p":97294,"g":"f12","t":"d"},
{"i":123,"p":97294,"g":"f13","t":"u"},{"i":125,"p":97366,"g":"f13","t":"u"},{"i":126,"p":97390,"g":"f13","t":"u"},{"i":127,"p":97390,"g":"f13","t":"u"},{"i":127.9,"p":97377,"g":"f13","t":"u"},
{"i":128,"p":97377,"g":"f14","t":"d"},{"i":129.8,"p":97308,"g":"f14","t":"d"},{"i":130.8,"p":97304,"g":"f14","t":"d"},{"i":132,"p":97287,"g":"f14","t":"d"},
{"i":132,"p":97287,"g":"f15","t":"u"},{"i":133,"p":97284,"g":"f15","t":"u"},
{"i":133,"p":97284,"g":"f16","t":"d"},{"i":134,"p":97280,"g":"f16","t":"d"},{"i":135,"p":97261,"g":"f16","t":"d"},
{"i":135,"p":97261,"g":"f17","t":"u"},{"i":136.2,"p":97301,"g":"f17","t":"u"},{"i":139,"p":97316,"g":"f17","t":"u"},{"i":140,"p":97301,"g":"f17","t":"u"},{"i":141,"p":97313,"g":"f17","t":"u"},{"i":143.3,"p":97395,"g":"f17","t":"u"},{"i":145,"p":97445,"g":"f17","t":"u"},{"i":146,"p":97455,"g":"f17","t":"u"},
{"i":146,"p":97455,"g":"f18","t":"d"},{"i":148,"p":97445,"g":"f18","t":"d"},{"i":149,"p":97462,"g":"f18","t":"d"},{"i":150.1,"p":97466,"g":"f18","t":"d"},{"i":152.2,"p":97430,"g":"f18","t":"d"},{"i":156.3,"p":97352,"g":"f18","t":"d"},{"i":157.3,"p":97323,"g":"f18","t":"d"},{"i":159.8,"p":97195,"g":"f18","t":"d"},{"i":161,"p":97128,"g":"f18","t":"d"},{"i":162.6,"p":97077,"g":"f18","t":"d"},{"i":163.9,"p":97019,"g":"f18","t":"d"},{"i":165.4,"p":96993,"g":"f18","t":"d"},{"i":167.2,"p":96996,"g":"f18","t":"d"},
{"i":167.2,"p":96996,"g":"f19","t":"u"},{"i":168.2,"p":97025,"g":"f19","t":"u"},{"i":170,"p":97128,"g":"f19","t":"u"},{"i":171.3,"p":97266,"g":"f19","t":"u"},{"i":173,"p":97427,"g":"f19","t":"u"},{"i":174,"p":97470,"g":"f19","t":"u"},{"i":175.6,"p":97492,"g":"f19","t":"u"},{"i":176.9,"p":97486,"g":"f19","t":"u"},{"i":178,"p":97465,"g":"f19","t":"u"},
{"i":178,"p":97465,"g":"f20","t":"d"},{"i":179.7,"p":97427,"g":"f20","t":"d"},{"i":181.7,"p":97419,"g":"f20","t":"d"},{"i":183.3,"p":97387,"g":"f20","t":"d"},{"i":184.8,"p":97318,"g":"f20","t":"d"},{"i":187.4,"p":97243,"g":"f20","t":"d"},{"i":188.9,"p":97140,"g":"f20","t":"d"},{"i":190.4,"p":97048,"g":"f20","t":"d"},{"i":191.7,"p":96968,"g":"f20","t":"d"},{"i":193,"p":96933,"g":"f20","t":"d"},{"i":194,"p":96887,"g":"f20","t":"d"},{"i":194.9,"p":96873,"g":"f20","t":"d"},{"i":196,"p":96893,"g":"f20","t":"d"},
{"i":196,"p":96893,"g":"f21","t":"u"},{"i":197,"p":96933,"g":"f21","t":"u"},{"i":198,"p":96950,"g":"f21","t":"u"},{"i":199.9,"p":97002,"g":"f21","t":"u"},{"i":201.1,"p":97065,"g":"f21","t":"u"},{"i":202.2,"p":97092,"g":"f21","t":"u"},{"i":203,"p":97088,"g":"f21","t":"u"},
{"i":203,"p":97088,"g":"f22","t":"d"},{"i":204,"p":97065,"g":"f22","t":"d"},{"i":205.2,"p":97036,"g":"f22","t":"d"},{"i":207.3,"p":97034,"g":"f22","t":"d"},{"i":208.9,"p":97044,"g":"f22","t":"d"},{"i":210.8,"p":97027,"g":"f22","t":"d"},{"i":213,"p":97023,"g":"f22","t":"d"},
{"i":213,"p":97023,"g":"f23","t":"u"},{"i":215.2,"p":97071,"g":"f23","t":"u"},{"i":217,"p":97108,"g":"f23","t":"u"},{"i":218.5,"p":97096,"g":"f23","t":"u"},{"i":220.5,"p":97096,"g":"f23","t":"u"},{"i":221.8,"p":97128,"g":"f23","t":"u"},{"i":223,"p":97151,"g":"f23","t":"u"},
{"i":223,"p":97151,"g":"f24","t":"d"},{"i":224.3,"p":97148,"g":"f24","t":"d"},{"i":226,"p":97134,"g":"f24","t":"d"},
{"i":226,"p":97134,"g":"f25","t":"u"},{"i":228.2,"p":97172,"g":"f25","t":"u"},{"i":230,"p":97176,"g":"f25","t":"u"},{"i":232,"p":97203,"g":"f25","t":"u"},
{"i":232,"p":97203,"g":"f26","t":"d"},{"i":233,"p":97180,"g":"f26","t":"d"},{"i":234,"p":97128,"g":"f26","t":"d"},{"i":236.1,"p":97008,"g":"f26","t":"d"},{"i":238.4,"p":97002,"g":"f26","t":"d"},{"i":239.8,"p":96982,"g":"f26","t":"d"},{"i":241.8,"p":97005,"g":"f26","t":"d"},{"i":244.8,"p":96946,"g":"f26","t":"d"},{"i":247.9,"p":96834,"g":"f26","t":"d"},{"i":253,"p":96693,"g":"f26","t":"d"},
{"i":253,"p":96693,"g":"f27","t":"u"},{"i":254,"p":96711,"g":"f27","t":"u"},{"i":256,"p":96850,"g":"f27","t":"u"},{"i":258.2,"p":96943,"g":"f27","t":"u"},
{"i":259,"p":96962,"g":"f28","t":"d"},{"i":260.7,"p":96907,"g":"f28","t":"d"},{"i":263,"p":96900,"g":"f28","t":"d"},
{"i":263,"p":96900,"g":"f29","t":"u"},{"i":265,"p":96909,"g":"f29","t":"u"},{"i":266,"p":96898,"g":"f29","t":"u"},
{"i":266,"p":96898,"g":"f30","t":"d"},{"i":269,"p":96834,"g":"f30","t":"d"},{"i":271,"p":96717,"g":"f30","t":"d"},{"i":274,"p":96482,"g":"f30","t":"d"},{"i":277,"p":96247,"g":"f30","t":"d"},{"i":278.9,"p":96215,"g":"f30","t":"d"},{"i":281,"p":96231,"g":"f30","t":"d"},
{"i":281,"p":96231,"g":"f31","t":"u"},{"i":283,"p":96245,"g":"f31","t":"u"},
{"i":283,"p":96245,"g":"f32","t":"d"},{"i":284,"p":96228,"g":"f32","t":"d"},{"i":286,"p":96226,"g":"f32","t":"d"},{"i":287,"p":96213,"g":"f32","t":"d"},
{"i":287,"p":96213,"g":"f33","t":"u"},{"i":289.7,"p":96249,"g":"f33","t":"u"},{"i":291.7,"p":96332,"g":"f33","t":"u"},{"i":294.5,"p":96412,"g":"f33","t":"u"},{"i":297.6,"p":96530,"g":"f33","t":"u"},{"i":300.8,"p":96605,"g":"f33","t":"u"},
{"i":301,"p":96605,"g":"f34","t":"d"},{"i":303.4,"p":96557,"g":"f34","t":"d"},{"i":305.4,"p":96514,"g":"f34","t":"d"},{"i":307,"p":96407,"g":"f34","t":"d"},{"i":310,"p":96277,"g":"f34","t":"d"},
{"i":310,"p":96277,"g":"f35","t":"u"},{"i":313.5,"p":96316,"g":"f35","t":"u"},{"i":315,"p":96370,"g":"f35","t":"u"},{"i":318,"p":96450,"g":"f35","t":"u"}]
},
"resolve":{"scale":{"color":"independent"}},
"layer":[
{"data":{"name":"bands"},"mark":{"type":"rect","xOffset":-1,"x2Offset":-1},"encoding":{"x":{"field":"s","type":"quantitative","scale":{"domain":[-0.2,318.9]},"axis":{"title":null,"values":[0,8,16,24,32,40,48,56,64,72,80,88,96,104,112,120,128,136,144,152,160,168,176,184,192,200,208,216,224,232,240,248,256,264,272,280,288,296,304,312],"labelExpr":"['21 Dec 2024','21 Dec 08:35','21 Dec 09:15','21 Dec 09:55','21 Dec 10:35','21 Dec 11:15','21 Dec 11:55','21 Dec 12:35','21 Dec 13:15','21 Dec 13:55','21 Dec 14:35','21 Dec 15:15','21 Dec 15:55','21 Dec 16:35','21 Dec 17:15','21 Dec 17:55','21 Dec 18:35','21 Dec 19:15','21 Dec 19:55','21 Dec 20:35','21 Dec 21:15','21 Dec 21:55','21 Dec 22:35','21 Dec 23:15','21 Dec 23:55','22 Dec 00:40','22 Dec 01:20','22 Dec 02:00','22 Dec 02:45','22 Dec 03:25','22 Dec 04:05','22 Dec 04:45','22 Dec 05:25','22 Dec 06:05','22 Dec 06:45','22 Dec 07:25','22 Dec 08:05','22 Dec 08:45','22 Dec 09:25','22 Dec 10:05'][datum.value/8]","labelAlign":"left","labelBaseline":"middle","labelPadding":9,"labelOffset":-1,"tickOffset":-1,"labelColor":"#ffffff","labelFont":"Roboto","labelFontSize":11,"labelBound":false,"labelFlush":false,"labelOverlap":false,"tickColor":"#e0e0e0","tickSize":5,"tickWidth":1,"domainColor":"#c8c8c8","domainWidth":1,"grid":false}},"x2":{"field":"e"},"color":{"field":"m","type":"nominal","legend":null,"scale":{"domain":["up","flat","down"],"range":["#34476f","#5b676f","#7a3e52"]}}}},
{"data":{"values":[{"i":9.6,"p":99272,"w":"XARD"}]},"mark":{"type":"text","font":"DejaVu Sans","fontWeight":"bold","fontSize":63,"align":"left","baseline":"alphabetic","color":"#1a1a1a","dx":4,"dy":4,"stroke":"#1a1a1a","strokeWidth":3},"encoding":{"x":{"field":"i","type":"quantitative","scale":{"domain":[-0.2,318.9]}},"y":{"field":"p","type":"quantitative","scale":{"domain":[95819,99494]},"axis":null},"text":{"field":"w"}}},
{"data":{"values":[{"i":32.3,"p":99272,"w":"UNIVERSE"}]},"mark":{"type":"text","font":"DejaVu Sans","fontWeight":"bold","fontSize":57,"align":"left","baseline":"alphabetic","color":"#1a1a1a","dx":4,"dy":4,"stroke":"#1a1a1a","strokeWidth":3},"encoding":{"x":{"field":"i","type":"quantitative","scale":{"domain":[-0.2,318.9]}},"y":{"field":"p","type":"quantitative","scale":{"domain":[95819,99494]},"axis":null},"text":{"field":"w"}}},
{"data":{"values":[{"i":9.6,"p":99272,"w":"XARD"}]},"mark":{"type":"text","font":"DejaVu Sans","fontWeight":"bold","fontSize":63,"align":"left","baseline":"alphabetic","color":"#00bfff","stroke":"#00bfff","strokeWidth":3},"encoding":{"x":{"field":"i","type":"quantitative","scale":{"domain":[-0.2,318.9]}},"y":{"field":"p","type":"quantitative","scale":{"domain":[95819,99494]},"axis":null},"text":{"field":"w"}}},
{"data":{"values":[{"i":32.3,"p":99272,"w":"UNIVERSE"}]},"mark":{"type":"text","font":"DejaVu Sans","fontWeight":"bold","fontSize":57,"align":"left","baseline":"alphabetic","color":"#c7148a","stroke":"#c7148a","strokeWidth":3},"encoding":{"x":{"field":"i","type":"quantitative","scale":{"domain":[-0.2,318.9]}},"y":{"field":"p","type":"quantitative","scale":{"domain":[95819,99494]},"axis":null},"text":{"field":"w"}}},
{"data":{"values":[{"i":64.8,"p":99203,"w":"VWAP Edition"}]},"mark":{"type":"text","font":"DejaVu Sans","fontWeight":"bold","fontSize":21,"align":"right","baseline":"alphabetic","color":"#a8a8a8"},"encoding":{"x":{"field":"i","type":"quantitative","scale":{"domain":[-0.2,318.9]}},"y":{"field":"p","type":"quantitative","scale":{"domain":[95819,99494]},"axis":null},"text":{"field":"w"}}},
{"data":{"values":[{"i":0.6,"p":99464}]},"mark":{"type":"point","shape":"triangle-down","filled":true,"color":"#ffffff","size":45,"opacity":1},"encoding":{"x":{"field":"i","type":"quantitative","scale":{"domain":[-0.2,318.9]}},"y":{"field":"p","type":"quantitative","scale":{"domain":[95819,99494]},"axis":null}}},
{"data":{"values":[{"i":1.8,"p":99461,"w":"BTCUSD,M5  96562.06 96563.04 96419.47 96443.82"}]},"mark":{"type":"text","font":"Roboto","fontSize":11.5,"align":"left","baseline":"middle","color":"#ffffff"},"encoding":{"x":{"field":"i","type":"quantitative","scale":{"domain":[-0.2,318.9]}},"y":{"field":"p","type":"quantitative","scale":{"domain":[95819,99494]},"axis":null},"text":{"field":"w"}}},
{"data":{"values":[{"p":96479}]},"mark":{"type":"rule","color":"#8c9aa8","strokeWidth":1},"encoding":{"y":{"field":"p","type":"quantitative","scale":{"domain":[95819,99494]},"axis":null}}},
{"data":{"values":[{"i":315.4,"p":99494},{"i":315.8,"p":98000},{"i":316,"p":96746},{"i":318.2,"p":96746}]},"mark":{"type":"line","color":"#3a3a3a","strokeWidth":6},"encoding":{"x":{"field":"i","type":"quantitative","scale":{"domain":[-0.2,318.9]}},"y":{"field":"p","type":"quantitative","scale":{"domain":[95819,99494]},"axis":null}}},
{"data":{"name":"candles"},"mark":{"type":"rule","strokeWidth":3},"encoding":{"x":{"field":"i","type":"quantitative","scale":{"domain":[-0.2,318.9]}},"y":{"field":"h","type":"quantitative","scale":{"domain":[95819,99494]},"axis":null},"y2":{"field":"l"},"color":{"field":"k","type":"nominal","legend":null,"scale":{"domain":["u","n","d"],"range":["#5ca9cd","#222222","#ff8cf7"]}}}},
{"data":{"name":"candles"},"mark":{"type":"rule","strokeWidth":8},"encoding":{"x":{"field":"i","type":"quantitative","scale":{"domain":[-0.2,318.9]}},"y":{"field":"t","type":"quantitative","scale":{"domain":[95819,99494]},"axis":null},"y2":{"field":"b"},"color":{"field":"k","type":"nominal","legend":null,"scale":{"domain":["u","n","d"],"range":["#5ca9cd","#222222","#ff8cf7"]}}}},
{"data":{"name":"candles"},"transform":[{"filter":"datum.k==='u'"}],"mark":{"type":"tick","orient":"horizontal","size":8,"thickness":1.5,"color":"#ff8cf7","opacity":1},"encoding":{"x":{"field":"i","type":"quantitative","scale":{"domain":[-0.2,318.9]}},"y":{"field":"b","type":"quantitative","scale":{"domain":[95819,99494]},"axis":null}}},
{"data":{"name":"slow"},"mark":{"type":"line","strokeWidth":10,"interpolate":"monotone","strokeCap":"round","strokeJoin":"round"},"encoding":{"x":{"field":"i","type":"quantitative","scale":{"domain":[-0.2,318.9]}},"y":{"field":"p","type":"quantitative","scale":{"domain":[95819,99494]},"axis":null},"detail":{"field":"g"},"color":{"field":"t","type":"nominal","legend":null,"scale":{"domain":["u","d"],"range":["#0000ff","#dc143c"]}}}},
{"data":{"name":"fast"},"mark":{"type":"line","strokeWidth":5,"interpolate":"monotone","strokeCap":"round","strokeJoin":"round"},"encoding":{"x":{"field":"i","type":"quantitative","scale":{"domain":[-0.2,318.9]}},"y":{"field":"p","type":"quantitative","scale":{"domain":[95819,99494]},"axis":null},"detail":{"field":"g"},"color":{"field":"t","type":"nominal","legend":null,"scale":{"domain":["u","d"],"range":["#0000ff","#dc143c"]}}}},
{"data":{"values":[{"s":3.9,"e":57.25,"a":96695,"z":96386}]},"mark":{"type":"rect","color":"#c0c0c0"},"encoding":{"x":{"field":"s","type":"quantitative","scale":{"domain":[-0.2,318.9]}},"x2":{"field":"e"},"y":{"field":"a","type":"quantitative","scale":{"domain":[95819,99494]},"axis":null},"y2":{"field":"z"}}},
{"data":{"values":[{"i":4.5,"p":96617,"w":"New Functionality:  Add higher TF BIAS, with"},{"i":4.5,"p":96509,"w":"2 extra buffers"}]},"mark":{"type":"text","font":"Roboto","fontSize":27,"align":"left","baseline":"middle","color":"#111111","dy":2},"encoding":{"x":{"field":"i","type":"quantitative","scale":{"domain":[-0.2,318.9]}},"y":{"field":"p","type":"quantitative","scale":{"domain":[95819,99494]},"axis":null},"text":{"field":"w"}}},
{"data":{"values":[{"s":-0.2,"e":18.8,"a":96095,"z":96014},{"s":0,"e":19,"a":95903,"z":95822}]},"mark":{"type":"rect","color":"#1e90ff"},"encoding":{"x":{"field":"s","type":"quantitative","scale":{"domain":[-0.2,318.9]}},"x2":{"field":"e"},"y":{"field":"a","type":"quantitative","scale":{"domain":[95819,99494]},"axis":null},"y2":{"field":"z"}}},
{"data":{"values":[{"s":-0.2,"e":18.8,"p":96014}]},"mark":{"type":"rule","color":"#dddddd","strokeWidth":2},"encoding":{"x":{"field":"s","type":"quantitative","scale":{"domain":[-0.2,318.9]}},"x2":{"field":"e"},"y":{"field":"p","type":"quantitative","scale":{"domain":[95819,99494]},"axis":null}}},
{"data":{"values":[{"i":9.2,"p":96050,"w":"UP TREND"},{"i":9.4,"p":95858,"w":"UP TREND"}]},"mark":{"type":"text","font":"Liberation Sans","fontWeight":"bold","fontSize":26,"align":"center","baseline":"middle","color":"#c0c0c0","dy":4},"encoding":{"x":{"field":"i","type":"quantitative","scale":{"domain":[-0.2,318.9]}},"y":{"field":"p","type":"quantitative","scale":{"domain":[95819,99494]},"axis":null},"text":{"field":"w"}}},
{"data":{"values":[{"i":20.5,"p":96059,"w":"30M"},{"i":21.5,"p":95870,"w":"5M"}]},"mark":{"type":"text","font":"Roboto","fontSize":26,"align":"left","baseline":"middle","color":"#ffffff","dy":2},"encoding":{"x":{"field":"i","type":"quantitative","scale":{"domain":[-0.2,318.9]}},"y":{"field":"p","type":"quantitative","scale":{"domain":[95819,99494]},"axis":null},"text":{"field":"w"}}}
]}
